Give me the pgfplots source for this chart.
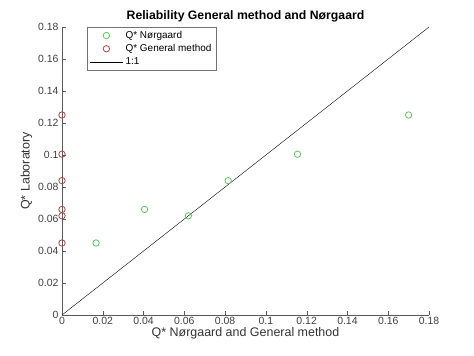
\documentclass[border=0pt]{standalone}
\usepackage{pgfplots}
\pgfplotsset{compat=1.18}
\usepackage{fontspec}
\setmainfont{Liberation Sans}
\definecolor{mgreen}{RGB}{90,200,90}
\definecolor{mred}{RGB}{185,65,65}
\pgfplotsset{
  mklegend/.style={legend image code/.code={\draw[mark repeat=2,mark phase=2,##1] plot coordinates {(0bp,0bp) (18bp,0bp) (36bp,0bp)};}},
  lnlegend/.style={legend image code/.code={\draw[##1] (2bp,0bp) -- (35bp,0bp);}},
}
\begin{document}
\begin{tikzpicture}[x=1bp,y=1bp]
\path[use as bounding box] (-62,-40) rectangle (412,315);
\begin{axis}[
  at={(0,0)}, anchor=south west,
  scale only axis, width=367bp, height=288bp,
  xmin=0, xmax=0.18, ymin=0, ymax=0.18,
  axis x line*=bottom, axis y line*=left,
  axis line style={draw=black!65, -},
  tick style={black!65},
  tick align=inside,
  major tick length=4bp,
  xtick={0,0.02,...,0.18}, ytick={0,0.02,...,0.18},
  xticklabels={0,0.02,0.04,0.06,0.08,0.1,0.12,0.14,0.16,0.18},
  yticklabels={0,0.02,0.04,0.06,0.08,0.1,0.12,0.14,0.16,0.18},
  /pgf/number format/assume math mode=true,
  ticklabel style={font=\fontsize{10.5}{12}\selectfont, text=black!75},
  xticklabel style={yshift=1bp},
  label style={font=\fontsize{12.5}{14}\selectfont, text=black!80},
  xlabel={Q* Nørgaard and General method},
  ylabel={Q* Laboratory},
  xlabel style={yshift=4bp},
  ylabel style={yshift=-1bp},
  title={Reliability General method and Nørgaard},
  title style={font=\bfseries\fontsize{12.3}{14}\selectfont, yshift=-5bp},
  clip=false,
  legend style={at={(25bp,288bp)}, anchor=north west, draw=black!55,
    font=\fontsize{10}{11}\selectfont, row sep=0.5bp, inner xsep=3bp, inner ysep=2bp,
    cells={anchor=west}},
  legend cell align=left,
]
\addplot[only marks, mark=o, mark size=3.2bp, mgreen, thick, mklegend] coordinates {
 (0.0167,0.045) (0.0405,0.066) (0.062,0.062) (0.0815,0.084) (0.1155,0.1005) (0.170,0.125)};
\addlegendentry{Q* Nørgaard}
\addplot[only marks, mark=o, mark size=3.2bp, mred, thick, mklegend] coordinates {
 (0,0.045) (0,0.062) (0,0.066) (0,0.084) (0,0.1005) (0,0.125)};
\addlegendentry{Q* General method}
\addplot[black, thin, lnlegend] coordinates {(0,0) (0.18,0.18)};
\addlegendentry{1:1}
\end{axis}
\end{tikzpicture}
\end{document}
